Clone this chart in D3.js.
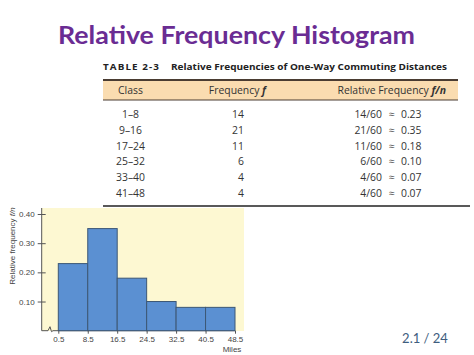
<!DOCTYPE html>
<html>
<head>
<meta charset="utf-8">
<script src="https://cdn.jsdelivr.net/npm/d3@7"></script>
<style>
  html, body { margin: 0; padding: 0; background: #ffffff; }
  svg { display: block; }
</style>
</head>
<body>
<svg id="chart" width="474" height="355"></svg>
<script>
// ---- data ----
const classes = ["1–8", "9–16", "17–24", "25–32", "33–40", "41–48"];
const frequencies = [14, 21, 11, 6, 4, 4];
const total = 60;
const relFrequencies = [0.23, 0.35, 0.18, 0.10, 0.07, 0.07];
const boundaries = [0.5, 8.5, 16.5, 24.5, 32.5, 40.5, 48.5];
const barHeights = [0.23, 0.35, 0.18, 0.10, 0.08, 0.08]; // as drawn in picture
const yTicks = [0.10, 0.20, 0.30, 0.40];
const xTickLabels = ["0.5", "8.5", "16.5", "24.5", "32.5", "40.5", "48.5"];

const svg = d3.select("#chart");

// ---- title ----
svg.append("text")
  .attr("x", 236.5).attr("y", 44)
  .attr("text-anchor", "middle")
  .attr("font-family", "Lato, 'Open Sans', sans-serif")
  .attr("font-weight", "bold")
  .attr("font-size", 25)
  .attr("fill", "#6a2c93")
  .attr("textLength", 357)
  .attr("lengthAdjust", "spacingAndGlyphs")
  .text("Relative Frequency Histogram");

// ---- table ----
const tFont = "'Open Sans', 'Noto Sans', sans-serif";
const tLeft = 103, tRight = 458;
svg.append("text")
  .attr("x", tLeft).attr("y", 70)
  .attr("font-family", tFont).attr("font-weight", "bold")
  .attr("font-size", 9).attr("fill", "#222")
  .attr("textLength", 57).attr("lengthAdjust", "spacingAndGlyphs")
  .attr("letter-spacing", 1)
  .text("TABLE 2-3");
svg.append("text")
  .attr("x", 171).attr("y", 70)
  .attr("font-family", tFont).attr("font-weight", "bold")
  .attr("font-size", 9).attr("fill", "#222")
  .attr("textLength", 276).attr("lengthAdjust", "spacingAndGlyphs")
  .text("Relative Frequencies of One-Way Commuting Distances");

svg.append("rect")
  .attr("x", tLeft).attr("y", 80).attr("width", tRight - tLeft).attr("height", 20)
  .attr("fill", "#fadcb0");
svg.append("line").attr("x1", tLeft).attr("x2", tRight).attr("y1", 80).attr("y2", 80)
  .attr("stroke", "#4a3c32").attr("stroke-width", 2);
svg.append("line").attr("x1", tLeft).attr("x2", tRight).attr("y1", 100).attr("y2", 100)
  .attr("stroke", "#4a3c32").attr("stroke-width", 1.2);
svg.append("line").attr("x1", tLeft).attr("x2", 470).attr("y1", 206).attr("y2", 206)
  .attr("stroke", "#222").attr("stroke-width", 1.5);

const hdr = svg.append("g")
  .attr("font-family", tFont).attr("font-size", 10.4).attr("fill", "#333");
hdr.append("text").attr("x", 118).attr("y", 94).text("Class");
const fh = hdr.append("text").attr("x", 266).attr("y", 94).attr("text-anchor", "end");
fh.append("tspan").text("Frequency ");
fh.append("tspan").attr("font-style", "italic").attr("font-weight", "bold").text("f");
const rh = hdr.append("text").attr("x", 446).attr("y", 94).attr("text-anchor", "end");
rh.append("tspan").text("Relative Frequency ");
rh.append("tspan").attr("font-style", "italic").attr("font-weight", "bold").text("f/n");

const rowY = d3.scalePoint().domain(classes).range([118.3, 196.7]);
const rows = svg.append("g")
  .attr("font-family", tFont).attr("font-size", 10.4).attr("fill", "#333");
classes.forEach((c, i) => {
  const y = rowY(c);
  rows.append("text").attr("x", 130.5).attr("y", y).attr("text-anchor", "middle").text(c);
  rows.append("text").attr("x", 244).attr("y", y).attr("text-anchor", "end").text(frequencies[i]);
  const t = rows.append("text").attr("x", 421.5).attr("y", y).attr("text-anchor", "end");
  t.append("tspan").text(`${frequencies[i]}/${total}`);
  t.append("tspan").attr("dx", 7).attr("fill", "#555").text("≈");
  t.append("tspan").attr("dx", 6).text(relFrequencies[i].toFixed(2));
});

// ---- histogram ----
const panel = { x0: 41.7, x1: 244, y0: 208, y1: 331 };
svg.append("rect")
  .attr("x", panel.x0).attr("y", panel.y0)
  .attr("width", panel.x1 - panel.x0).attr("height", panel.y1 - panel.y0)
  .attr("fill", "#fdf8d2");

const x = d3.scaleLinear().domain([0.5, 48.5]).range([58.3, 235]);
const y = d3.scaleLinear().domain([0, 0.4]).range([330.7, 214]);

// x axis baseline with break
const axisColor = "#555";
svg.append("path")
  .attr("d", `M${panel.x0},${y(0)} H48 L50,${y(0) - 4} L51.5,${y(0) + 1} L53,${y(0)} H${x(48.5)}`)
  .attr("fill", "none").attr("stroke", axisColor).attr("stroke-width", 1);

// bars
const bins = barHeights.map((h, i) => ({ a: boundaries[i], b: boundaries[i + 1], h }));
svg.append("g").selectAll("rect").data(bins).join("rect")
  .attr("x", d => x(d.a)).attr("y", d => y(d.h))
  .attr("width", d => x(d.b) - x(d.a)).attr("height", d => y(0) - y(d.h))
  .attr("fill", "#5b90d2").attr("stroke", "#3c5776").attr("stroke-width", 1);

// x ticks & labels
const xAxisG = svg.append("g").attr("transform", `translate(0,${y(0)})`)
  .call(d3.axisBottom(x).tickValues(boundaries).tickSize(3).tickSizeOuter(0)
    .tickFormat((d, i) => xTickLabels[i]));
xAxisG.select(".domain").remove();
xAxisG.selectAll("line").attr("stroke", axisColor);
xAxisG.selectAll("text").attr("font-family", "Arial, 'Liberation Sans', sans-serif")
  .attr("font-size", 8).attr("fill", "#444").attr("dy", 0).attr("y", 11);

svg.append("text").attr("x", 232).attr("y", 352).attr("text-anchor", "middle")
  .attr("font-family", "Arial, 'Liberation Sans', sans-serif").attr("font-size", 8)
  .attr("fill", "#444").text("Miles");

// y axis
const yAxisG = svg.append("g").attr("transform", `translate(${panel.x0},0)`)
  .call(d3.axisLeft(y).tickValues(yTicks).tickSize(4).tickSizeOuter(0).tickFormat(d3.format(".2f")));
yAxisG.select(".domain").attr("d", `M0,${panel.y0}V${y(0)}`).attr("stroke", axisColor);
yAxisG.selectAll(".tick line").attr("x1", -4).attr("x2", 4).attr("stroke", axisColor);
yAxisG.selectAll("text").attr("font-family", "Arial, 'Liberation Sans', sans-serif")
  .attr("font-size", 8).attr("fill", "#444").attr("x", -7);

const yl = svg.append("text")
  .attr("transform", `translate(15,246) rotate(-90)`)
  .attr("text-anchor", "middle")
  .attr("font-family", "Arial, 'Liberation Sans', sans-serif").attr("font-size", 8)
  .attr("fill", "#444");
yl.append("tspan").text("Relative frequency ");
yl.append("tspan").attr("font-style", "italic").text("f/n");

// page number
svg.append("text").attr("x", 425).attr("y", 343).attr("text-anchor", "middle")
  .attr("font-family", "Lato, 'Open Sans', sans-serif").attr("font-size", 13)
  .attr("fill", "#3e5d7e").text("2.1 / 24");
</script>
</body>
</html>
